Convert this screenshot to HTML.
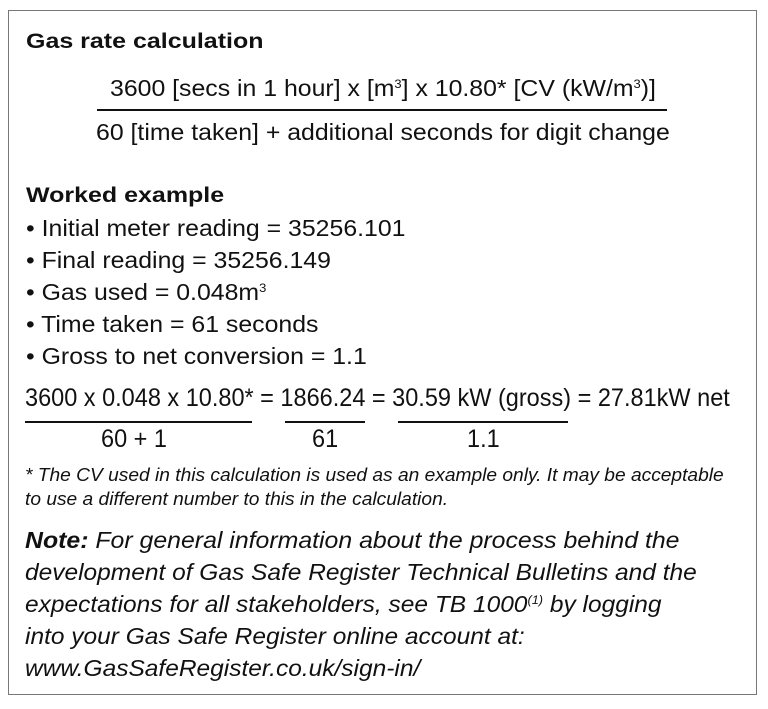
<!DOCTYPE html>
<html><head><meta charset="utf-8"><style>
body{margin:0;width:768px;height:709px;background:#fff;position:relative;font-family:"Liberation Sans",sans-serif;color:#111;overflow:hidden}
.box{position:absolute;left:8px;top:10px;width:747px;height:683px;border:1.5px solid #777}
.t{position:absolute;white-space:nowrap;line-height:30px;font-size:23px;transform-origin:left center}
.s{transform:scaleX(1.08)}
.b{font-weight:bold;font-size:21px;transform:scaleX(1.19)}
.ln{position:absolute;height:2px;background:#111}
.i{font-style:italic}
sup{font-size:12px;vertical-align:top;position:relative;top:-4px}
</style></head><body>
<div class="box"></div>
<div class="t b" style="left:26px;top:27px">Gas rate calculation</div>
<div class="t s" style="left:110px;top:73px">3600 [secs in 1 hour] x [m<sup>3</sup>] x 10.80* [CV (kW/m<sup>3</sup>)]</div>
<div class="ln" style="left:97px;top:109px;width:570px"></div>
<div class="t s" style="left:96px;top:117px">60 [time taken] + additional seconds for digit change</div>
<div class="t b" style="left:26px;top:181px">Worked example</div>
<div class="t s" style="left:26px;top:213px">• Initial meter reading = 35256.101</div>
<div class="t s" style="left:26px;top:245px">• Final reading = 35256.149</div>
<div class="t s" style="left:26px;top:277px">• Gas used = 0.048m<sup>3</sup></div>
<div class="t s" style="left:26px;top:309px">• Time taken = 61 seconds</div>
<div class="t s" style="left:26px;top:341px">• Gross to net conversion = 1.1</div>
<div class="t" style="left:25px;top:383px;font-size:25px;transform:scaleX(0.94)">3600 x 0.048 x 10.80* = 1866.24 = 30.59 kW (gross) = 27.81kW net</div>
<div class="ln" style="left:25px;top:421px;width:227px"></div>
<div class="ln" style="left:285px;top:421px;width:80px"></div>
<div class="ln" style="left:398px;top:421px;width:170px"></div>
<div class="t" style="left:101px;top:424px;font-size:25px;transform:scaleX(0.94)">60 + 1</div>
<div class="t" style="left:312px;top:424px;font-size:25px;transform:scaleX(0.94)">61</div>
<div class="t" style="left:467px;top:424px;font-size:25px;transform:scaleX(0.94)">1.1</div>
<div class="t i" style="left:25px;top:461px;font-size:18px;line-height:28px;transform:scaleX(1.065)">* The CV used in this calculation is used as an example only. It may be acceptable</div>
<div class="t i" style="left:25px;top:485px;font-size:18px;line-height:28px;transform:scaleX(1.065)">to use a different number to this in the calculation.</div>
<div class="t i" style="left:25px;top:525px;transform:scaleX(1.08)"><b>Note:</b> For general information about the process behind the</div>
<div class="t i" style="left:25px;top:557px;transform:scaleX(1.065)">development of Gas Safe Register Technical Bulletins and the</div>
<div class="t i" style="left:25px;top:589px;transform:scaleX(1.065)">expectations for all stakeholders, see TB 1000<sup>(1)</sup> by logging</div>
<div class="t i" style="left:25px;top:621px;transform:scaleX(1.065)">into your Gas Safe Register online account at:</div>
<div class="t i" style="left:25px;top:653px;transform:scaleX(1.065)">www.GasSafeRegister.co.uk/sign-in/</div>
</body></html>
